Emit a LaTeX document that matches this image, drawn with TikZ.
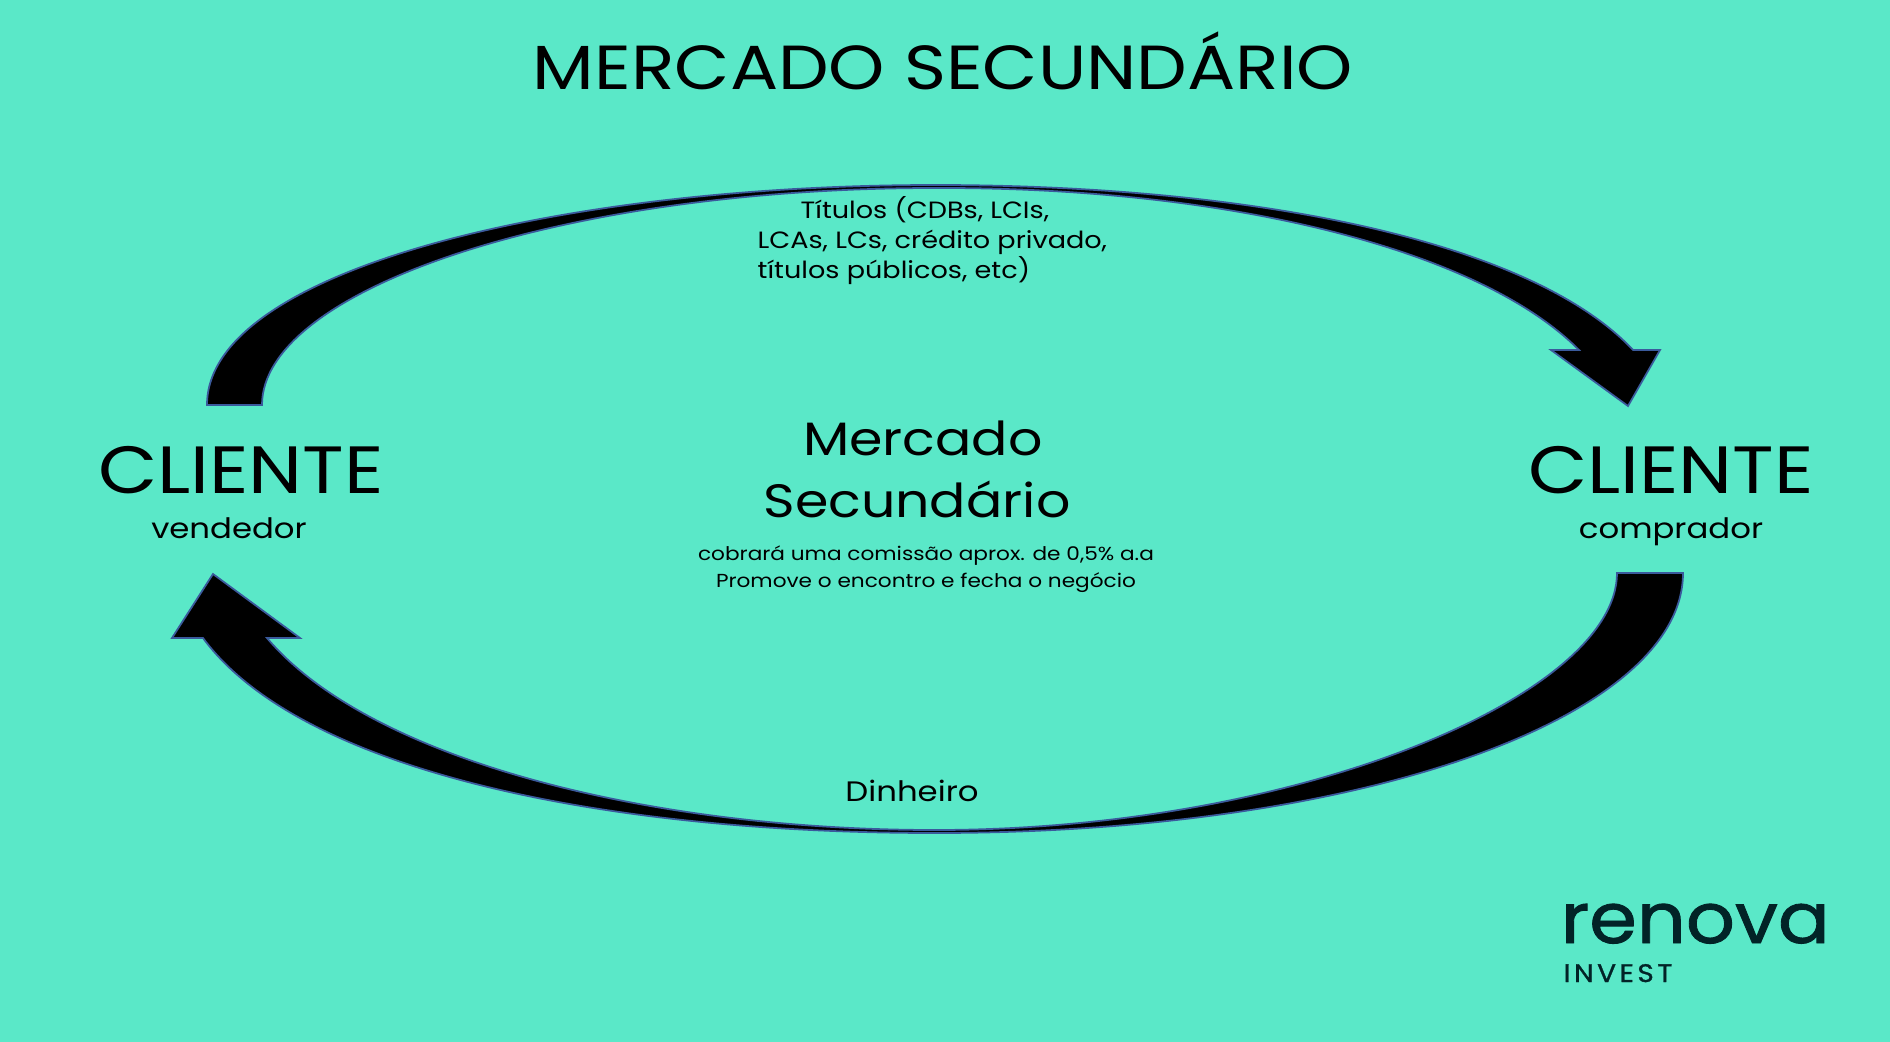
\documentclass[tikz,border=0pt]{standalone}
\usepackage{fontspec}
\setmainfont[FakeStretch=1.15]{Poppins}
\newfontfamily\logofont[FakeStretch=1.09,FakeBold=1.2]{Poppins}
\newfontfamily\investfont[LetterSpace=14,FakeStretch=1.1,FakeBold=1.2]{Poppins}
\usepackage{xcolor}
\usetikzlibrary{calc}
\usetikzlibrary{positioning}

\definecolor{bgmint}{HTML}{5AE8C8}
\definecolor{arrowline}{HTML}{3A5A9C}
\definecolor{logoink}{HTML}{022327}

\tikzset{
  bigarrow/.style={draw=arrowline,line width=0.5pt,fill=black,line join=miter},
  sometext/.style={inner sep=0pt,text=black,anchor=base},
  titletext/.style={sometext,font=\fontsize{17.7}{20}\selectfont},
  clienttext/.style={sometext,font=\fontsize{19}{20}\selectfont},
  markettext/.style={sometext,font=\fontsize{13.3}{15}\selectfont},
  midtext/.style={sometext,font=\fontsize{8}{9}\selectfont},
  papertext/.style={sometext,anchor=base west,font=\fontsize{6.7}{8}\selectfont},
  smalltext/.style={sometext,font=\fontsize{5.35}{7}\selectfont}
}

\begin{document}
\begin{tikzpicture}[x=0.01cm,y=-0.01cm]
  \fill [bgmint] (0,0) rectangle (1890,1042);
  \useasboundingbox (0,0) rectangle (1890,1042);

  \node [titletext] at (943,89) (title) {MERCADO SECUNDÁRIO};

  % top arrow
  \draw [bigarrow] (207,405) .. controls (207,270) and (560,185) .. (935,185)
  .. controls (1250,185) and (1530,240) .. (1633,350) -- (1660,350) -- (1628,406)
  -- (1551,350) -- (1579,350) .. controls (1480,250) and (1230,187) .. (935,188)
  .. controls (560,188) and (262,290) .. (262,405) -- cycle;

  % bottom arrow
  \draw [bigarrow] (1683,573) .. controls (1683,715) and (1370,833) .. (935,833)
  .. controls (600,833) and (300,770) .. (203,638) -- (172,638) -- (213,574)
  -- (300,638) -- (267,638) .. controls (370,760) and (650,830) .. (935,830)
  .. controls (1300,830) and (1617,695) .. (1617,573) -- cycle;

  \node [papertext] at (800,218) (papersa) {Títulos (CDBs, LCIs,};
  \node [papertext] at (757,248) (papersb) {LCAs, LCs, crédito privado,};
  \node [papertext] at (757,278) (papersc) {títulos públicos, etc)};

  \node [clienttext] at (241,493) (seller) {CLIENTE};
  \node [midtext] at (229,538) (sellerrole) {vendedor};
  \node [clienttext] at (1671,493) (buyer) {CLIENTE};
  \node [midtext] at (1671,538) (buyerrole) {comprador};

  \node [markettext] at (923,455) (market) {Mercado};
  \node [markettext] at (917,517) (marketb) {Secundário};
  \node [smalltext] at (926,560) (fee) {cobrará uma comissão aprox. de 0,5\% a.a};
  \node [smalltext] at (926,587) (deal) {Promove o encontro e fecha o negócio};

  \node [midtext] at (912,801) (money) {Dinheiro};

  \node [inner sep=0pt,text=logoink,anchor=base west,font=\fontsize{20}{22}\logofont] at (1560,943) (logo) {renova};
  \node [inner sep=0pt,text=logoink,anchor=base west,font=\fontsize{7.2}{8}\investfont] at (1563,982) (logob) {INVEST};
\end{tikzpicture}
\end{document}
